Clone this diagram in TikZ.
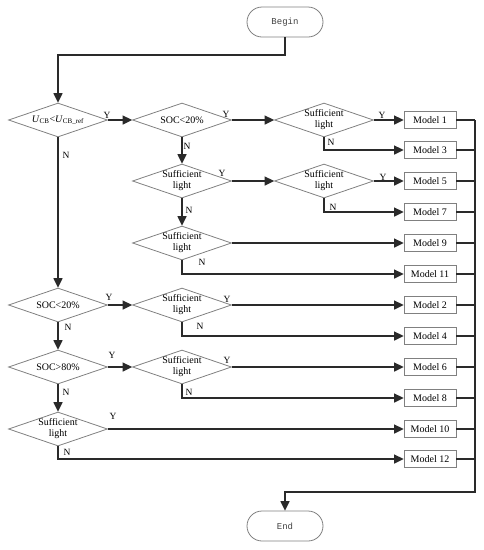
\documentclass[tikz,border=0pt]{standalone}
\usepackage{fontspec}
\setmainfont{Liberation Serif}
\newfontfamily\monof{Liberation Mono}
\usetikzlibrary{shapes.geometric,arrows.meta}
\definecolor{lin}{HTML}{2A2A2A}
\definecolor{edg}{HTML}{808080}
\tikzset{
  dia/.style={diamond, draw=edg, line width=0.8pt, aspect=2.9, minimum width=99pt, minimum height=34pt, inner sep=0pt, align=center, font=\fontsize{10}{11}\selectfont},
  modbox/.style={rectangle, draw=edg, line width=0.8pt, minimum width=52pt, minimum height=17pt, inner sep=0pt, font=\fontsize{10}{11}\selectfont},
  term/.style={rectangle, rounded corners=15pt, draw=edg, line width=0.8pt, minimum width=76pt, minimum height=30pt, inner sep=0pt, font=\monof\fontsize{9}{10}\selectfont, text=black!75},
  conn/.style={draw=lin, line width=1.4pt},
  arr/.style={conn, -{Triangle[length=9.5pt,width=9pt]}},
  yn/.style={inner sep=0pt, font=\fontsize{9.5}{10}\selectfont}
}
\begin{document}
\begin{tikzpicture}[x=1pt,y=-1pt]
\useasboundingbox (0,0) rectangle (484,550);
% terminals
\node[term] (begin) at (285,22) {Begin};
\node[term] (end) at (285,526) {End};
% decisions
\node[dia] (d1) at (58,120) {\textit{U}\textsubscript{CB}<\textit{U}\textsubscript{CB\_ref}};
\node[dia] (d2) at (182,120) {SOC<20\%};
\node[dia] (d3) at (324,120) {Sufficient\\light};
\node[dia] (d4) at (182,181) {Sufficient\\light};
\node[dia] (d5) at (324,181) {Sufficient\\light};
\node[dia] (d6) at (182,243) {Sufficient\\light};
\node[dia] (d7) at (58,305) {SOC<20\%};
\node[dia] (d8) at (182,305) {Sufficient\\light};
\node[dia] (d9) at (58,367) {SOC>80\%};
\node[dia] (d10) at (182,367) {Sufficient\\light};
\node[dia] (d11) at (58,429) {Sufficient\\light};
% models
\node[modbox] (m1) at (430,120) {Model 1};
\node[modbox] (m3) at (430,150) {Model 3};
\node[modbox] (m5) at (430,181) {Model 5};
\node[modbox] (m7) at (430,212) {Model 7};
\node[modbox] (m9) at (430,243) {Model 9};
\node[modbox] (m11) at (430,274) {Model 11};
\node[modbox] (m2) at (430,305) {Model 2};
\node[modbox] (m4) at (430,336) {Model 4};
\node[modbox] (m6) at (430,367) {Model 6};
\node[modbox] (m8) at (430,398) {Model 8};
\node[modbox] (m10) at (430,429) {Model 10};
\node[modbox] (m12) at (430,459) {Model 12};
% junctions
\coordinate (j1) at (285,55);
\coordinate (bt) at (475,120);
\coordinate (bb) at (475,492);
% connectors
\draw[arr] (begin.south) -- (j1) -| (d1.north);
\draw[arr] (d1.east) -- (d2.west);
\draw[arr] (d2.east) -- (d3.west);
\draw[arr] (d3.east) -- (m1.west);
\draw[arr] (d3.south) |- (m3.west);
\draw[arr] (d2.south) -- (d4.north);
\draw[arr] (d4.east) -- (d5.west);
\draw[arr] (d5.east) -- (m5.west);
\draw[arr] (d5.south) |- (m7.west);
\draw[arr] (d4.south) -- (d6.north);
\draw[arr] (d6.east) -- (m9.west);
\draw[arr] (d6.south) |- (m11.west);
\draw[arr] (d1.south) -- (d7.north);
\draw[arr] (d7.east) -- (d8.west);
\draw[arr] (d8.east) -- (m2.west);
\draw[arr] (d8.south) |- (m4.west);
\draw[arr] (d7.south) -- (d9.north);
\draw[arr] (d9.east) -- (d10.west);
\draw[arr] (d10.east) -- (m6.west);
\draw[arr] (d10.south) |- (m8.west);
\draw[arr] (d9.south) -- (d11.north);
\draw[arr] (d11.east) -- (m10.west);
\draw[arr] (d11.south) |- (m12.west);
\foreach \m in {m1,m3,m5,m7,m9,m11,m2,m4,m6,m8,m10,m12}
  \draw[conn] (\m.east) -- (\m.east -| bt);
\draw[arr] (bt) -- (bb) -| (end.north);
% Y / N labels
\node[yn] (y1) at (107,115) {Y};
\node[yn] (y2) at (226,114) {Y};
\node[yn] (y3) at (382,115) {Y};
\node[yn] (y4) at (222,173) {Y};
\node[yn] (y5) at (383,177) {Y};
\node[yn] (y7) at (109,297) {Y};
\node[yn] (y8) at (227,299) {Y};
\node[yn] (y9) at (112,355) {Y};
\node[yn] (y10) at (227,360) {Y};
\node[yn] (y11) at (113,416) {Y};
\node[yn] (n1) at (66,155) {N};
\node[yn] (n2) at (187,146) {N};
\node[yn] (n3) at (331,142) {N};
\node[yn] (n4) at (189,210) {N};
\node[yn] (n5) at (333,207) {N};
\node[yn] (n6) at (202,262) {N};
\node[yn] (n7) at (68,327) {N};
\node[yn] (n8) at (200,326) {N};
\node[yn] (n9) at (66,392) {N};
\node[yn] (n10) at (189,392) {N};
\node[yn] (n11) at (67,452) {N};
\end{tikzpicture}
\end{document}
